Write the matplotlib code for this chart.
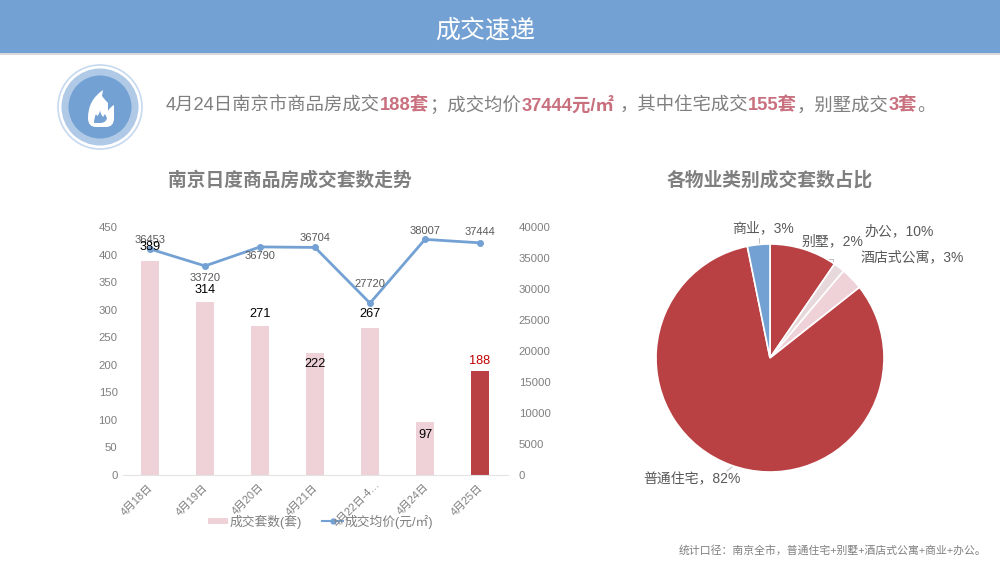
import numpy as np
import matplotlib
matplotlib.use("Agg")
import matplotlib.pyplot as plt
from matplotlib.patches import Circle, PathPatch, Rectangle
from matplotlib.path import Path
from matplotlib.transforms import ScaledTranslation

plt.rcParams['font.family'] = ['Liberation Sans', 'Noto Sans CJK SC', 'DejaVu Sans']

dates = ['4月18日', '4月19日', '4月20日', '4月21日', '4月22日-4…', '4月24日', '4月25日']
deals = [389, 314, 271, 222, 267, 97, 188]
prices = [36453, 33720, 36790, 36704, 27720, 38007, 37444]
left_ticks = [0, 50, 100, 150, 200, 250, 300, 350, 400, 450]
right_ticks = [0, 5000, 10000, 15000, 20000, 25000, 30000, 35000, 40000]

pie_names = ['办公', '别墅', '酒店式公寓', '普通住宅', '商业']
pie_counts = [18, 3, 6, 155, 6]
pie_shown = [10, 2, 3, 82, 3]
pie_colors = ['#B94043', '#E6D8DB', '#EED2D8', '#B94043', '#74A1D3']

summary = [('4月24日南京市商品房成交', 0), ('188套', 1), ('；成交均价', 0), ('37444元/㎡', 1),
           ('，其中住宅成交', 0), ('155套', 1), ('，别墅成交', 0), ('3套', 1), ('。', 0)]

blue = '#74A1D3'
pink = '#EED2D8'
red = '#B94043'
gray = '#7F7F7F'
W, H = 1000, 563


def box(x0, y0, x1, y1):
    return [x0 / W, 1 - y1 / H, (x1 - x0) / W, (y1 - y0) / H]


fig = plt.figure(figsize=(10, 5.63), dpi=100, facecolor='white')

# page furniture in pixel coordinates
bg = fig.add_axes([0, 0, 1, 1])
bg.set_xlim(0, W)
bg.set_ylim(H, 0)
bg.axis('off')
bg.add_patch(Rectangle((0, 0), W, 53, color=blue, lw=0))
bg.add_patch(Rectangle((0, 53), W, 1.5, color='#D9D9D9', lw=0))
bg.text(485.5, 30.5, '成交速递', color='white', fontsize=18, ha='center', va='center')

# icon
bg.add_patch(Circle((100, 107), 42, fc='white', ec='#C6D9EF', lw=1.2))
bg.add_patch(Circle((100, 107), 38.5, fc='#AFC9E6', lw=0))
bg.add_patch(Circle((100, 107), 31.5, fc=blue, lw=0))
C3, L2 = Path.CURVE3, Path.LINETO
flame = [(103, 90), (88, 100), (88, 118), (88, 127), (96, 127), (106, 127), (114, 127), (114, 118), (114, 105),
         (110, 107), (108, 111), (108, 103), (105, 100), (102, 96), (103, 90)]
flame_codes = [Path.MOVETO, C3, C3, C3, C3, L2, C3, C3, L2, C3, C3, L2, C3, C3, L2]
bg.add_patch(PathPatch(Path(flame, flame_codes), fc='white', lw=0))
inner = [(100, 110), (100, 114), (97, 116), (96, 114), (94, 118), (94, 123), (100, 123), (106, 123), (107, 118),
         (105, 114), (103, 117), (101, 114), (100, 110)]
inner_codes = [Path.MOVETO, C3, C3, L2, C3, C3, L2, C3, C3, L2, L2, L2, L2]
bg.add_patch(PathPatch(Path(inner, inner_codes), fc=blue, lw=0))

# summary line, pieces set one after another
renderer = fig.canvas.get_renderer()
x = 166
for piece, hot in summary:
    t = bg.text(x, 106, piece, fontsize=13.2, va='center', ha='left',
                color='#C9707F' if hot else gray, fontweight='bold' if hot else 'normal')
    x += t.get_window_extent(renderer).width
    if piece.startswith('37444'):
        x += 5

bg.text(290, 180, '南京日度商品房成交套数走势', color=gray, fontsize=13.5, fontweight='bold', ha='center', va='center')
bg.text(770, 180, '各物业类别成交套数占比', color=gray, fontsize=13.5, fontweight='bold', ha='center', va='center')
bg.text(986, 550, '统计口径：南京全市，普通住宅+别墅+酒店式公寓+商业+办公。', color=gray, fontsize=7.8, ha='right', va='center')

# combo chart
ax = fig.add_axes(box(122.5, 227, 507.5, 475))
ax.patch.set_alpha(0)
xs = np.arange(len(dates))
bar_colors = [pink] * 6 + [red]
ax.bar(xs, deals, width=0.31, color=bar_colors, zorder=2)
ax.set_xlim(-0.5, 6.5)
ax.set_ylim(0, 450)
ax.set_yticks(left_ticks)
ax.set_xticks(xs)
ax.set_xticklabels(dates, rotation=45, ha='right', rotation_mode='anchor', fontsize=7.8, color=gray)
ax.tick_params(axis='both', length=0, colors=gray, labelsize=8.2)
ax.tick_params(axis='x', labelsize=7.8, pad=5)
for s in ['top', 'left', 'right']:
    ax.spines[s].set_visible(False)
ax.spines['bottom'].set_color('#E3E3E3')
for i, lab in enumerate(ax.get_xticklabels()):
    dx = 5 if i == 4 else -2
    dy = 3 if i == 4 else 0
    lab.set_transform(lab.get_transform() + ScaledTranslation(dx / 100, dy / 100, fig.dpi_scale_trans))

ax2 = ax.twinx()
ax2.patch.set_alpha(0)
ax2.plot(xs, prices, color=blue, lw=2, marker='o', ms=4, zorder=3)
ax2.set_ylim(0, 40000)
ax2.set_yticks(right_ticks)
ax2.tick_params(axis='y', length=0, colors=gray, labelsize=8.2, pad=8)
for s in ['top', 'left', 'right', 'bottom']:
    ax2.spines[s].set_visible(False)

# label offsets in points, the source chart has them hand placed
price_off = [6.5, -9, -6.5, 7, 14, 6, 8]
for i, v in enumerate(prices):
    ax2.annotate(str(v), (xs[i], v), xytext=(0, price_off[i]), textcoords='offset points', ha='center', va='center',
                 fontsize=8, color='#595959', zorder=5)
deal_off = [9.5, 8.5, 8.5, -8.5, 10, -10, 7.5]
for i, v in enumerate(deals):
    ax2.annotate(str(v), (xs[i], v * 40000 / 450), xytext=(0, deal_off[i]), textcoords='offset points', ha='center',
                 va='center', fontsize=9.2, color='#C00000' if i == 6 else 'black', zorder=6)
ax.set_zorder(2)
ax2.set_zorder(3)

# legend
bg.add_patch(Rectangle((208, 518), 20, 6, color=pink, lw=0))
bg.text(230, 521.5, '成交套数(套)', color=gray, fontsize=9.2, va='center', ha='left')
bg.plot([322, 343], [521, 521], color=blue, lw=1.5)
bg.plot([332.5], [521], 'o', color=blue, ms=3.5)
bg.text(345, 521.5, '成交均价(元/㎡)', color=gray, fontsize=9.2, va='center', ha='left')

# pie, circle radius 114px
pie_ax = fig.add_axes(box(656, 244, 884, 472))
pie_ax.pie(pie_counts, colors=pie_colors, startangle=90, counterclock=False, radius=1,
           wedgeprops={'edgecolor': 'white', 'linewidth': 1.2})
pie_ax.set_xlim(-1, 1)
pie_ax.set_ylim(-1, 1)

pie_labels = [(864, 231), (802, 241), (861, 257), (643, 479), (732, 228)]
for (lx, ly), name, share in zip(pie_labels, pie_names, pie_shown):
    bg.text(lx, ly, f'{name}，{share}%', color='#595959', fontsize=10, ha='left', va='center', zorder=5)
bg.plot([759, 759], [238, 245], color='#BFBFBF', lw=0.7)
bg.plot([826, 833, 833], [259, 259, 264], color='#BFBFBF', lw=0.7)
bg.plot([727, 732], [471, 467], color='#BFBFBF', lw=0.7)

fig.savefig('out.png', dpi=100)
